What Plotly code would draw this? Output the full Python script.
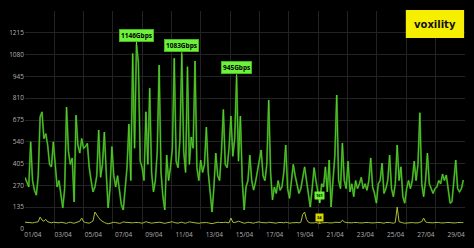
import plotly.graph_objects as go

# ---- data (Gbps, one value every 3 hours, starting 31/03 12:00) ----
start_day = -0.522          # days relative to 01/04 00:00
step_hours = 3

green_gbps = [
    320, 290, 260, 540, 300, 240, 210, 330,
    693, 725, 560, 590, 520, 400, 385, 540,
    420, 260, 300, 200, 130, 250, 755, 480,
    400, 440, 167, 705, 520, 470, 560, 500,
    510, 530, 380, 300, 230, 260, 330, 613,
    320, 400, 600, 350, 130, 250, 510, 330,
    260, 330, 220, 150, 118, 250, 380, 650,
    300, 1087, 500, 1146, 1030, 420, 380, 300,
    726, 400, 872, 350, 230, 300, 480, 1015,
    350, 200, 118, 458, 300, 380, 500, 1058,
    420, 380, 550, 1083, 480, 350, 1005, 400,
    570, 500, 1040, 380, 300, 427, 350, 400,
    631, 350, 200, 105, 260, 470, 330, 300,
    480, 740, 400, 380, 500, 700, 450, 560,
    945, 420, 700, 300, 118, 260, 300, 458,
    300, 241, 290, 350, 420, 489, 330, 300,
    400, 798, 350, 180, 260, 220, 300, 240,
    260, 350, 520, 250, 190, 300, 400, 330,
    280, 220, 250, 320, 385, 300, 200, 136,
    250, 380, 300, 230, 161, 280, 260, 385,
    230, 427, 136, 300, 450, 830, 300, 250,
    532, 300, 250, 420, 230, 280, 200, 300,
    250, 280, 320, 250, 280, 240, 300, 440,
    260, 220, 160, 280, 300, 408, 220, 250,
    300, 458, 250, 200, 280, 520, 300, 385,
    200, 160, 250, 300, 250, 300, 420, 300,
    400, 720, 280, 200, 300, 470, 280, 250,
    220, 250, 260, 300, 280, 340, 300, 334,
    250, 160, 170, 300, 427, 250, 230, 250,
    303,
]

yellow_gbps = [
    42, 40, 38, 36, 38, 40, 42, 45,
    74, 55, 48, 60, 45, 40, 38, 42,
    40, 36, 38, 42, 40, 37, 35, 40,
    42, 38, 36, 40, 44, 48, 68, 45,
    40, 38, 36, 42, 50, 105, 85, 70,
    55, 45, 40, 36, 32, 35, 38, 42,
    40, 38, 35, 38, 44, 42, 40, 38,
    36, 38, 40, 42, 40, 38, 36, 40,
    45, 42, 38, 36, 38, 40, 44, 42,
    40, 36, 35, 38, 40, 42, 45, 40,
    38, 36, 40, 42, 38, 36, 40, 44,
    42, 40, 38, 36, 35, 38, 40, 42,
    40, 38, 35, 33, 36, 40, 42, 40,
    38, 40, 42, 40, 38, 68, 42, 40,
    45, 48, 44, 40, 36, 38, 42, 40,
    38, 36, 40, 42, 44, 40, 38, 36,
    38, 42, 40, 36, 34, 36, 40, 42,
    40, 38, 42, 40, 36, 38, 40, 42,
    40, 38, 42, 90, 105, 60, 42, 38,
    36, 38, 40, 36, 34, 38, 40, 42,
    40, 38, 36, 38, 42, 40, 38, 40,
    55, 44, 40, 38, 36, 38, 40, 42,
    40, 38, 36, 38, 40, 42, 40, 38,
    36, 38, 40, 42, 40, 38, 36, 40,
    42, 40, 38, 36, 40, 136, 45, 40,
    38, 36, 38, 40, 42, 40, 38, 36,
    38, 42, 45, 68, 44, 40, 38, 36,
    38, 40, 42, 40, 38, 36, 38, 40,
    42, 40, 38, 36, 38, 40, 42, 40,
    40,
]

tick_days = [0, 2, 4, 6, 8, 10, 12, 14, 16, 18, 20, 22, 24, 26, 28]
tick_labels = ["01/04", "03/04", "05/04", "07/04", "09/04", "11/04", "13/04", "15/04",
               "17/04", "19/04", "21/04", "23/04", "25/04", "27/04", "29/04"]
y_ticks = [0, 135, 270, 405, 540, 675, 810, 945, 1080, 1215]

peak_labels = [1146, 1083, 945]
marker_index = 156   # small value markers around 20/04

x_green = [start_day + i * step_hours / 24 for i in range(len(green_gbps))]
x_yellow = [start_day + i * step_hours / 24 for i in range(len(yellow_gbps))]

GREEN = "#5bd82e"
LIME = "#6cf23a"
YELLOW = "#aebd34"
GRID = "#232323"
FONT = "Open Sans"

fig = go.Figure()
fig.add_trace(go.Scatter(x=x_green, y=green_gbps, mode="lines",
                         line=dict(color="#2a7414", width=1.9), hoverinfo="skip"))
fig.add_trace(go.Scatter(x=x_green, y=green_gbps, mode="lines",
                         line=dict(color=GREEN, width=0.8)))
fig.add_trace(go.Scatter(x=x_yellow, y=yellow_gbps, mode="lines",
                         line=dict(color=YELLOW, width=1.0)))

annotations = []
for v in peak_labels:
    i = green_gbps.index(v)
    annotations.append(dict(
        x=x_green[i], y=green_gbps[i], xref="x", yref="y",
        text=f"<b>{v}Gbps</b>", showarrow=True, arrowhead=0, arrowwidth=1,
        arrowcolor=LIME, ax=0, ay=-2, yanchor="bottom",
        bgcolor=LIME, bordercolor="#48b81e", borderwidth=1, borderpad=1,
        font=dict(family=FONT, size=6.5, color="#000")))

annotations.append(dict(
    x=x_green[marker_index], y=green_gbps[marker_index], xref="x", yref="y",
    text=f"<b>{green_gbps[marker_index]}</b>", showarrow=True, arrowhead=0, arrowwidth=1,
    arrowcolor=LIME, ax=0, ay=-3, yanchor="bottom",
    bgcolor=LIME, borderpad=1, font=dict(family=FONT, size=4, color="#000")))
annotations.append(dict(
    x=x_yellow[marker_index], y=yellow_gbps[marker_index], xref="x", yref="y",
    text=f"<b>{yellow_gbps[marker_index]}</b>", showarrow=True, arrowhead=0, arrowwidth=1,
    arrowcolor="#d8d800", ax=0, ay=-2, yanchor="bottom",
    bgcolor="#d8d800", borderpad=1, font=dict(family=FONT, size=4, color="#000")))

# logo
annotations.append(dict(
    x=0.932, y=0.940, xref="paper", yref="paper", text="<b>voxility</b>",
    showarrow=False, font=dict(family="DejaVu Sans", size=10, color="#111"),
    xanchor="center", yanchor="middle"))

fig.update_layout(
    width=474, height=248,
    margin=dict(l=19, r=9, t=11, b=19),
    paper_bgcolor="#000", plot_bgcolor="#000",
    showlegend=False,
    font=dict(family=FONT, color="#b0b0b0", size=6.5),
    annotations=annotations,
    shapes=[dict(type="rect", xref="paper", yref="paper",
                 x0=0.8655, x1=0.998, y0=0.876, y1=1.0046,
                 fillcolor="#f7ef00", line=dict(width=0), layer="above")],
    xaxis=dict(range=[start_day, 28.59], tickmode="array", tickvals=tick_days,
               ticktext=tick_labels, showgrid=False, zeroline=False, showline=False,
               ticks="", tickfont=dict(size=6.5, color="#b0b0b0"),
               minor=dict(tick0=start_day, dtick=1.9406, showgrid=True,
                          gridcolor=GRID, gridwidth=1, ticks="")),
    yaxis=dict(range=[0, 1350], tickmode="array", tickvals=y_ticks,
               showgrid=True, gridcolor=GRID, gridwidth=1, zeroline=False,
               showline=False, ticks="", tickfont=dict(size=6.5, color="#b0b0b0"),
               minor=dict(dtick=135, tick0=0, showgrid=True, gridcolor=GRID, ticks="")),
)

fig.write_html("out.html")
